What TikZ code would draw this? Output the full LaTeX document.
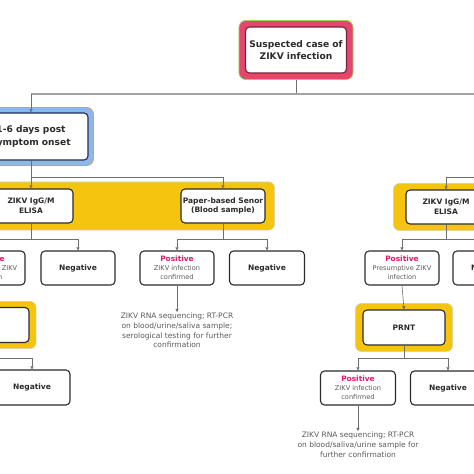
\documentclass[tikz,border=0pt]{standalone}
\usepackage{fontspec}
\setmainfont{DejaVu Sans}
\usepackage{xcolor}
\usepackage{tikz}
\usetikzlibrary{arrows.meta, fit, backgrounds}

\definecolor{zgold}{HTML}{F5C40F}
\definecolor{zpale}{HTML}{C9D9B4}
\definecolor{zred}{HTML}{E4466E}
\definecolor{zgreen}{HTML}{9ED35A}
\definecolor{zblue}{HTML}{8FB6E6}
\definecolor{zorange}{HTML}{E49A5C}
\definecolor{znavy}{HTML}{1E2A5C}
\definecolor{zdark}{HTML}{2B2B2B}
\definecolor{zline}{HTML}{6E6E6E}
\definecolor{ztrunk}{HTML}{A3A3A3}
\definecolor{zgray}{HTML}{5A5A5A}
\definecolor{zpink}{HTML}{E0196B}

\newcommand{\posmark}{{\fontsize{7.4}{9}\selectfont\bfseries\textcolor{zpink}{Positive}}}

\begin{document}
\begin{tikzpicture}[x=1pt,y=-1pt,
    box/.style={draw=zdark, line width=1.1pt, rounded corners=4pt, fill=white,
        minimum width=74pt, minimum height=34pt, align=center, inner sep=1pt,
        text=zgray, font=\fontsize{6.6}{9}\selectfont},
    headbox/.style={box, text=zdark, font=\fontsize{7.5}{9.5}\selectfont\bfseries},
    bigbox/.style={box, text=zdark, font=\fontsize{9.1}{12.5}\selectfont\bfseries},
    goldframe/.style={fill=zgold, draw=zpale, line width=0.6pt, rounded corners=6pt},
    note/.style={align=center, inner sep=1pt, text=zgray, font=\fontsize{7.5}{9.6}\selectfont},
    link/.style={draw=zline, line width=0.6pt},
    to/.style={link, -{Triangle[length=3.2pt,width=3.2pt]}},
    trunk/.style={draw=ztrunk, line width=1.5pt}]

    \useasboundingbox (0,0) rectangle (474,474);
    \clip (0,0) rectangle (474,474);

    % top of the tree
    \node[bigbox, draw=zred!50!black, minimum width=101pt, minimum height=46pt] (case) at (296,50) {Suspected case of\\ZIKV infection};

    \node[bigbox, draw=znavy, minimum width=114pt, minimum height=47pt] (onset) at (31,136.5) {1-6 days post\\symptom onset};

    % tests
    \node[headbox, minimum width=84pt] (elisaL) at (31,206) {ZIKV IgG/M\\ELISA};
    \node[headbox, minimum width=84pt] (sensor) at (223,206) {Paper-based Senor\\(Blood sample)};
    \node[headbox, minimum width=80pt] (elisaR) at (446,207) {ZIKV IgG/M\\ELISA};

    \node[box] (posL1) at (-12,268) {\posmark\\Presumptive ZIKV\\infection};
    \node[headbox] (negL1) at (78,268) {Negative};
    \node[box] (posS) at (177,268) {\posmark\\ZIKV infection\\confirmed};
    \node[headbox, minimum width=75pt] (negS) at (267,268) {Negative};
    \node[box] (posR1) at (402,268) {\posmark\\Presumptive ZIKV\\infection};
    \node[headbox] (negR1) at (490,268) {Negative};

    \node[note, anchor=north] (noteS) at (177,312) {ZIKV RNA sequencing; RT-PCR\\on blood/urine/saliva sample;\\serological testing for further\\confirmation};

    % PRNT
    \node[headbox, minimum width=82pt, minimum height=35pt] (prntL) at (-12,325) {PRNT};
    \node[headbox, minimum width=82pt, minimum height=35pt] (prntR) at (404,327.5) {PRNT};

    \node[headbox, minimum width=76pt, minimum height=35pt] (negL2) at (32,387.5) {Negative};
    \node[box, minimum width=75pt] (posR2) at (358,388) {\posmark\\ZIKV infection\\confirmed};
    \node[headbox, minimum width=75pt] (negR2) at (448,388) {Negative};

    \node[note, anchor=north] (noteR) at (358,431) {ZIKV RNA sequencing; RT-PCR\\on blood/saliva/urine sample for\\further confirmation};

    % frames behind the boxes
    \begin{scope}[on background layer]
        \node[fit=(case), inner sep=6pt, fill=zred, draw=zgreen, line width=0.8pt, rounded corners=7pt] (case frame) {};
        \node[fit=(onset), inner sep=5pt, fill=zblue, draw=zorange, line width=0.8pt, rounded corners=7pt] (onset frame) {};
        \node[goldframe, fit=(elisaL)(sensor), inner xsep=9pt, inner ysep=6.5pt] (band) {};
        \node[goldframe, fit=(elisaR), inner xsep=12pt, inner ysep=6pt] (elisaR frame) {};
        \node[goldframe, fit=(prntL), inner xsep=6.5pt, inner ysep=5.5pt] (prntL frame) {};
        \node[goldframe, fit=(prntR), inner xsep=7pt, inner ysep=6pt] (prntR frame) {};
    \end{scope}

    % connectors
    \coordinate (late) at (490,94);
    \coordinate (lateR) at (490,177);

    \draw[link] (case frame.south) -- (case frame.south |- 0,94) coordinate (split);
    \draw[trunk] (split) -- (late);
    \draw[trunk] (split) -- (onset.north |- 0,94) coordinate (turn);
    \draw[to] (turn) -- (onset.north);

    \draw[link] (onset.south) -- (onset.south |- 0,177) coordinate (fork1);
    \draw[to] (fork1) -- (elisaL.north);
    \draw[to] (fork1) -| (sensor.north);
    \draw[to] (lateR) -| (elisaR.north);

    \draw[link] (elisaL.south) -- ++(0,16) coordinate (b1);
    \draw[to] (b1) -| (posL1.north);
    \draw[to] (b1) -| (negL1.north);

    \draw[link] (sensor.south) -- ++(0,16) coordinate (b2);
    \draw[to] (b2) -| (posS.north);
    \draw[to] (b2) -| (negS.north);
    \draw[to] (posS.south) -- (noteS.north);

    \draw[link] (elisaR.south) -- ++(0,15) coordinate (b3);
    \draw[to] (b3) -| (posR1.north);
    \draw[to] (b3) -| (negR1.north);

    \draw[to] (posL1.south) -- (prntL.north);
    \draw[link] (prntL.south) -- ++(0,15.5) coordinate (b4);
    \draw[to] (b4) -| (negL2.north);

    \draw[to] (posR1.south) -- (prntR.north);
    \draw[link] (prntR.south) -- ++(0,13) coordinate (b5);
    \draw[to] (b5) -| (posR2.north);
    \draw[to] (b5) -| (negR2.north);
    \draw[to] (posR2.south) -- (noteR.north);

\end{tikzpicture}
\end{document}
